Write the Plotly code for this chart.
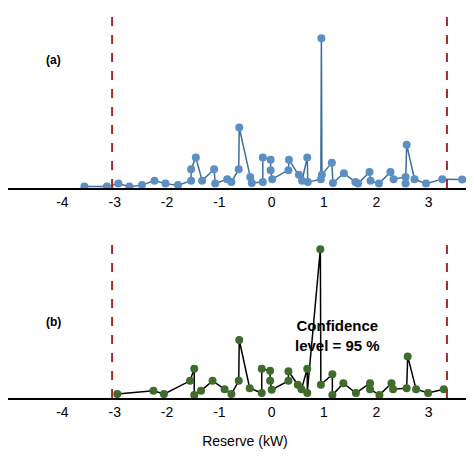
import plotly.graph_objects as go

# panel (a)
xa = [-3.58, -3.15, -2.93, -2.72, -2.48, -2.24, -2.03, -1.79, -1.54, -1.54, -1.45, -1.33, -1.10, -1.08,
      -0.85, -0.77, -0.63, -0.62, -0.41, -0.38, -0.17, -0.17, -0.02, -0.02, 0.01, 0.32, 0.33, 0.52,
      0.58, 0.68, 0.69, 0.94, 0.95, 0.96, 1.15, 1.17, 1.38, 1.60, 1.65, 1.87, 1.89, 2.05, 2.27, 2.33,
      2.56, 2.56, 2.58, 2.73, 2.95, 3.26, 3.64]
ya = [1, 1, 3, 1, 2, 5, 3, 2, 5, 12.6, 20.5, 5, 12.6, 3,
      6, 4, 12.6, 40.4, 7.5, 3.4, 4, 20.5, 19, 12, 6, 12, 19, 9,
      5, 20.5, 4, 6, 100, 9, 17, 3.4, 10, 4, 3, 10.7, 5, 3, 10.7, 6,
      7.5, 3, 29, 6, 3, 6, 5.7]

# panel (b)
xb = [-2.95, -2.26, -2.06, -1.56, -1.48, -1.48, -1.35, -1.13, -0.90, -0.77, -0.63, -0.62, -0.42,
      -0.19, -0.19, -0.03, -0.03, 0.0, 0.32, 0.32, 0.50, 0.57, 0.68, 0.68, 0.93, 0.94, 1.16, 1.16,
      1.37, 1.61, 1.88, 1.88, 2.06, 2.29, 2.32, 2.58, 2.60, 2.76, 2.99, 3.29]
yb = [2.7, 5, 2.7, 11.6, 19.7, 2, 5, 11.6, 6, 2.7, 11.6, 39, 6.7,
      3.4, 19.7, 18.3, 11.6, 5.6, 11.6, 18, 9, 6, 19.7, 3.4, 100, 9, 16, 2,
      10, 3.4, 10, 6, 2, 10, 6, 6.7, 28, 6, 3.4, 6]

limits = [-3.05, 3.35]
ticks = [-5, -4, -3, -2, -1, 0, 1, 2, 3, 4]
tick_text = ["-5", "-4", "-3", "-2", "-1", "0", "1", "2", "3", "4"]

fig = go.Figure()
fig.add_trace(go.Scatter(x=xa, y=ya, mode="lines+markers", xaxis="x", yaxis="y",
                         line=dict(color="#3b6f99", width=1.5),
                         marker=dict(color="#5b8fc4", size=8)))
fig.add_trace(go.Scatter(x=xb, y=yb, mode="lines+markers", xaxis="x2", yaxis="y2",
                         line=dict(color="black", width=1.5),
                         marker=dict(color="#3f6b2b", size=8)))

for xr, yr in [("x", "y"), ("x2", "y2")]:
    for v in limits:
        fig.add_shape(type="line", x0=v, x1=v, y0=0, y1=1, xref=xr, yref=yr + " domain",
                      line=dict(color="#a52a2a", width=2, dash="dash"))

axis = dict(range=[-5.04, 4.02], tickvals=ticks, ticktext=tick_text, showline=True,
            linecolor="black", linewidth=1.5, showgrid=False, zeroline=False, ticks="",
            tickfont=dict(size=14, color="black"), domain=[0.0, 1])
fig.update_layout(
    width=474, height=474, margin=dict(l=0, r=0, t=0, b=0),
    plot_bgcolor="white", paper_bgcolor="white", showlegend=False,
    font=dict(family="Arial, Liberation Sans", color="black"),
    xaxis=dict(axis, anchor="y"),
    xaxis2=dict(axis, anchor="y2",
                title=dict(text="Reserve (kW)", font=dict(size=14), standoff=18)),
    yaxis=dict(domain=[0.62, 0.99], range=[0, 117], showline=True, linecolor="black",
               showticklabels=False, showgrid=False, zeroline=False, anchor="x"),
    yaxis2=dict(domain=[0.177, 0.51], range=[0, 106], showline=True, linecolor="black",
                showticklabels=False, showgrid=False, zeroline=False, anchor="x2"),
    annotations=[
        dict(text="<b>(a)</b>", x=0.075, y=0.91, xref="paper", yref="paper",
             showarrow=False, font=dict(size=12)),
        dict(text="<b>(b)</b>", x=0.075, y=0.318, xref="paper", yref="paper",
             showarrow=False, font=dict(size=12)),
        dict(text="<b>Confidence<br>level = 95 %</b>", x=0.79, y=0.265, xref="paper",
             yref="paper", showarrow=False, font=dict(size=15)),
    ],
)
fig.write_html("out.html")
